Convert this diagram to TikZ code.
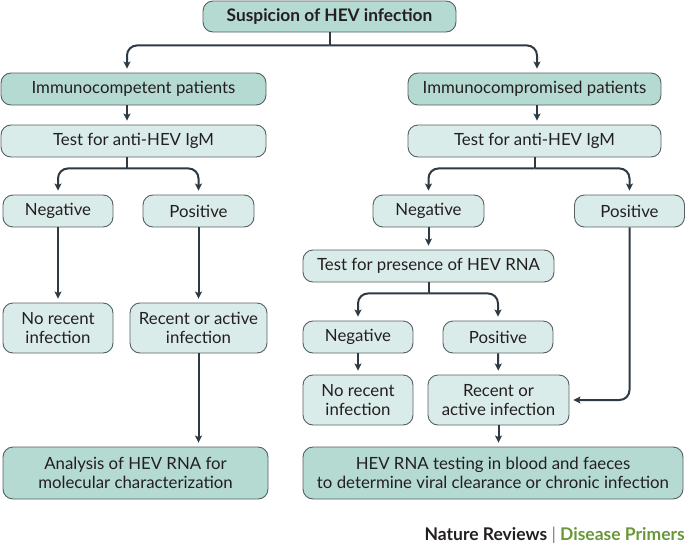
\documentclass[tikz,border=0pt]{standalone}
\usepackage{fontspec}
\setmainfont{Lato}
\usetikzlibrary{arrows.meta}
\definecolor{darkfill}{RGB}{180,218,209}
\definecolor{lightfill}{RGB}{218,236,233}
\definecolor{boxline}{RGB}{85,95,100}
\definecolor{arrowc}{RGB}{45,58,68}
\definecolor{nrgreen}{RGB}{104,152,58}
\definecolor{nrtext}{RGB}{35,31,32}
\begin{document}
\begin{tikzpicture}[x=1pt,y=-1pt,
 base/.style={draw=boxline, line width=0.9pt, rounded corners=10pt, inner sep=0pt, align=center, font=\fontsize{16.8}{18.5}\selectfont, text=nrtext},
 darkbox/.style={base, fill=darkfill},
 lightbox/.style={base, fill=lightfill},
 sz/.style 2 args={minimum width=#1, minimum height=#2},
 conn/.style={draw=arrowc, line width=2pt, -{Stealth[length=7pt,width=7pt,inset=1.5pt]}, shorten >=4pt, rounded corners=10pt},
 stem/.style={draw=arrowc, line width=2pt}
]
\useasboundingbox (0,0) rectangle (685,546);

% nodes
\node[darkbox, sz={253pt}{31pt}, font=\fontsize{17.3}{20}\selectfont\bfseries] (top) at (329.5,16.5) {Suspicion of HEV infection};
\node[darkbox, sz={265pt}{32pt}] (icomp) at (133.5,89) {Immunocompetent patients};
\node[darkbox, sz={253pt}{32pt}] (icpro) at (534.5,89) {Immunocompromised patients};
\node[lightbox, sz={265pt}{32pt}] (testL) at (133.5,141) {Test for anti-HEV IgM};
\node[lightbox, sz={253pt}{32pt}] (testR) at (534.5,141) {Test for anti-HEV IgM};

\node[lightbox, sz={110pt}{32pt}] (negL) at (58,211) {Negative};
\node[lightbox, sz={111pt}{32pt}] (posL) at (198.5,211) {Positive};
\node[lightbox, sz={110pt}{50pt}] (norecL) at (58,328) {No recent\\infection};
\node[lightbox, sz={137pt}{50pt}] (recL) at (198.5,328) {Recent or active\\infection};
\node[darkbox, sz={265pt}{52pt}] (analysis) at (135.5,473) {Analysis of HEV RNA for\\molecular characterization};

\node[lightbox, sz={111pt}{32pt}] (negR) at (428.5,211) {Negative};
\node[lightbox, sz={110pt}{32pt}] (posR) at (629.5,211) {Positive};
\node[lightbox, sz={251pt}{32pt}] (rna) at (428.5,266) {Test for presence of HEV RNA};
\node[lightbox, sz={110pt}{32pt}] (negR2) at (358,337) {Negative};
\node[lightbox, sz={110pt}{32pt}] (posR2) at (498,337) {Positive};
\node[lightbox, sz={110pt}{50pt}] (norecR) at (358,400) {No recent\\infection};
\node[lightbox, sz={141pt}{50pt}] (recR) at (498.5,400) {Recent or\\active infection};
\node[darkbox, sz={380pt}{52pt}] (hev) at (493,473) {HEV RNA testing in blood and faeces\\to determine viral clearance or chronic infection};

\node[anchor=base east, inner sep=0pt, font=\fontsize{17.5}{20}\selectfont\bfseries, text=nrtext] (credit) at (685,540) {Nature Reviews {\color{gray}\mdseries|} \textcolor{nrgreen}{Disease Primers}};

% connectors
\draw[stem] (top.south) -- ++(0,13) coordinate (j0);
\draw[conn] (j0) -| ([xshift=-6.5pt]icomp.north);
\draw[conn] (j0) -| ([xshift=2.5pt]icpro.north);
\draw[conn] ([xshift=-6.5pt]icomp.south) -- ([xshift=-6.5pt]testL.north);
\draw[conn] ([xshift=2.5pt]icpro.south) -- ([xshift=2.5pt]testR.north);

\draw[stem] ([xshift=-6.5pt]testL.south) -- ++(0,11) coordinate (jL);
\draw[conn] (jL) -| (negL.north);
\draw[conn] (jL) -| (posL.north);
\draw[conn] (negL) -- (norecL);
\draw[conn] (posL) -- (recL);
\draw[conn] (recL.south) -- (recL.south |- analysis.north);

\draw[stem] (testR.south) -- ++(0,11) coordinate (jR);
\draw[conn] (jR) -| (negR.north);
\draw[conn] (jR) -| (posR.north);
\draw[conn] (negR) -- (rna);
\draw[stem] (rna.south) -- ++(0,11) coordinate (jR2);
\draw[conn] (jR2) -| (negR2.north);
\draw[conn] (jR2) -| (posR2.north);
\draw[conn] (negR2) -- (norecR);
\draw[conn] (posR2) -- (recR);
\draw[conn] (posR.south) |- (recR.east);
\draw[conn] (recR.south) -- (recR.south |- hev.north);
\end{tikzpicture}
\end{document}
